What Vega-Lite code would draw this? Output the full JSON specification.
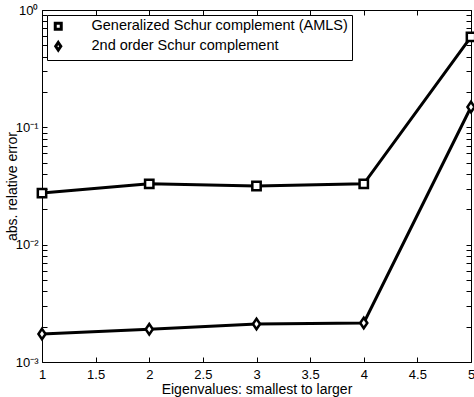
{
  "$schema": "https://vega.github.io/schema/vega-lite/v6.json",
  "width": 429,
  "height": 352,
  "autosize": "none",
  "padding": {"left": 42, "top": 10, "right": 3, "bottom": 35},
  "background": "white",
  "config": {
    "view": {"stroke": "black", "strokeWidth": 1},
    "font": "Liberation Sans",
    "axis": {"labelFont": "Liberation Sans", "titleFont": "Liberation Sans", "labelColor": "black", "titleColor": "black", "tickColor": "black", "domainColor": "black", "grid": false, "titleFontWeight": "normal", "labelFontSize": 13, "titleFontSize": 14}
  },
  "data": {
    "values": [
      {"x": 1, "series": "Generalized Schur complement (AMLS)", "value": 0.0275},
      {"x": 2, "series": "Generalized Schur complement (AMLS)", "value": 0.0330},
      {"x": 3, "series": "Generalized Schur complement (AMLS)", "value": 0.0316},
      {"x": 4, "series": "Generalized Schur complement (AMLS)", "value": 0.0330},
      {"x": 5, "series": "Generalized Schur complement (AMLS)", "value": 0.59},
      {"x": 1, "series": "2nd order Schur complement", "value": 0.00173},
      {"x": 2, "series": "2nd order Schur complement", "value": 0.0019},
      {"x": 3, "series": "2nd order Schur complement", "value": 0.00211},
      {"x": 4, "series": "2nd order Schur complement", "value": 0.00215},
      {"x": 5, "series": "2nd order Schur complement", "value": 0.149}
    ]
  },
  "resolve": {"axis": {"x": "independent", "y": "independent"}},
  "layer": [
    {
      "mark": {"type": "line", "color": "black", "strokeWidth": 3},
      "encoding": {
        "x": {"field": "x", "type": "quantitative", "scale": {"domain": [1, 5]},
          "axis": {"values": [1, 1.5, 2, 2.5, 3, 3.5, 4, 4.5, 5], "format": "~g", "tickSize": -5, "labelPadding": 11, "domain": false, "title": "Eigenvalues: smallest to larger", "titlePadding": 1, "labelFlush": false, "labelOverlap": false}},
        "y": {"field": "value", "type": "quantitative", "scale": {"type": "log", "domain": [0.001, 1]},
          "axis": {"values": [0.001, 0.002, 0.003, 0.004, 0.005, 0.006, 0.007, 0.008, 0.009, 0.01, 0.02, 0.03, 0.04, 0.05, 0.06, 0.07, 0.08, 0.09, 0.1, 0.2, 0.3, 0.4, 0.5, 0.6, 0.7, 0.8, 0.9, 1],
            "labelExpr": "datum.value == 1 ? '10⁰' : datum.value == 0.1 ? '10⁻¹' : datum.value == 0.01 ? '10⁻²' : datum.value == 0.001 ? '10⁻³' : ''",
            "tickSize": -5, "labelPadding": 9, "domain": false, "title": "abs. relative error", "titlePadding": -4, "labelFlush": false, "labelOverlap": false}},
        "detail": {"field": "series"}
      }
    },
    {
      "mark": {"type": "point", "filled": false, "fill": "white", "stroke": "black", "strokeWidth": 2.5, "opacity": 1, "size": 70},
      "encoding": {
        "x": {"field": "x", "type": "quantitative", "axis": {"orient": "top", "values": [1, 1.5, 2, 2.5, 3, 3.5, 4, 4.5, 5], "tickSize": -5, "labels": false, "domain": false, "title": null}},
        "y": {"field": "value", "type": "quantitative", "scale": {"type": "log"},
          "axis": {"orient": "right", "values": [0.001, 0.002, 0.003, 0.004, 0.005, 0.006, 0.007, 0.008, 0.009, 0.01, 0.02, 0.03, 0.04, 0.05, 0.06, 0.07, 0.08, 0.09, 0.1, 0.2, 0.3, 0.4, 0.5, 0.6, 0.7, 0.8, 0.9, 1], "tickSize": -5, "labels": false, "domain": false, "title": null}},
        "shape": {"field": "series", "type": "nominal",
          "scale": {"domain": ["Generalized Schur complement (AMLS)", "2nd order Schur complement"], "range": ["square", "M0,-1.25L0.85,0L0,1.25L-0.85,0Z"]},
          "legend": {
            "title": null, "orient": "top-left", "offset": 5, "strokeColor": "black", "fillColor": "white", "padding": 4,
            "labelFont": "Liberation Sans", "labelFontSize": 14.5, "labelColor": "black", "labelLimit": 400, "labelOffset": 26, "rowPadding": 0,
            "symbolStrokeWidth": 3, "symbolSize": 36
          }}
      }
    }
  ]
}
